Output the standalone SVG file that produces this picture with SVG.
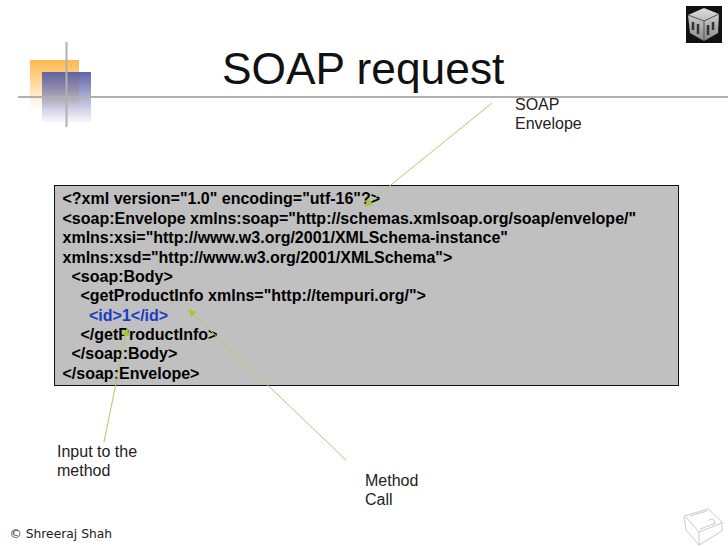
<svg xmlns="http://www.w3.org/2000/svg" width="728" height="546" viewBox="0 0 728 546">
<style>
.t{font-family:"Liberation Sans",Arial,sans-serif}
.code{font-size:16px;font-weight:bold;fill:#000}
.lab{font-size:16px;fill:#222}
.conn{stroke:#b5c86a;stroke-width:1;fill:none;marker-end:url(#arr)}
</style>
<defs>
<linearGradient id="o" x1="0" y1="0" x2="0" y2="1"><stop offset="0" stop-color="#ffb84d"/><stop offset="1" stop-color="#ffb84d" stop-opacity="0"/></linearGradient>
<linearGradient id="p" x1="0" y1="0" x2="0" y2="1"><stop offset="0" stop-color="#6065a8"/><stop offset="1" stop-color="#6065a8" stop-opacity="0.05"/></linearGradient>
<linearGradient id="cube" x1="0" y1="0" x2="0" y2="1"><stop offset="0" stop-color="#ddd"/><stop offset="1" stop-color="#888"/></linearGradient>
<marker id="arr" markerWidth="8" markerHeight="8" refX="7" refY="4" orient="auto" markerUnits="userSpaceOnUse"><path d="M0 0L8 4L0 8Z" fill="#a4c832"/></marker>
</defs>
<rect width="728" height="546" fill="#fff"/>
<g id="decor">
<rect x="30" y="60" width="49" height="50" fill="url(#o)"/>
<rect x="42" y="72" width="49" height="50" fill="url(#p)"/>
<path d="M18 97H728M66.500 42V127" stroke="#b0b0b0" stroke-width="2" fill="none"/>
</g>
<g id="logo">
<rect x="686" y="6" width="36" height="37" fill="#111"/>
<path d="M704 8L719 14L718 33L704 41L690 33L688 15Z" fill="url(#cube)"/>
<path d="M688 15L704 21L719 14M704 21V41" stroke="#555" stroke-width="1" fill="none"/>
<path d="M693 22V30M698 24V34M708 25V35M713 22V30" stroke="#333" stroke-width="2.500"/>
</g>
<g id="title"><text class="t" x="222" y="84" font-size="44.300" fill="#111">SOAP request</text></g>
<g id="code-box">
<rect x="54.500" y="185.500" width="624" height="200" fill="#c0c0c0" stroke="#111" stroke-width="1"/>
<text class="t code" x="62.500" y="204">&lt;?xml version="1.0" encoding="utf-16"?&gt;</text>
<text class="t code" x="62.500" y="224">&lt;soap:Envelope xmlns:soap="http://schemas.xmlsoap.org/soap/envelope/"</text>
<text class="t code" x="62.500" y="243">xmlns:xsi="http://www.w3.org/2001/XMLSchema-instance"</text>
<text class="t code" x="62.500" y="263">xmlns:xsd="http://www.w3.org/2001/XMLSchema"&gt;</text>
<text class="t code" x="71.500" y="282">&lt;soap:Body&gt;</text>
<text class="t code" x="80.500" y="301">&lt;getProductInfo xmlns="http://tempuri.org/"&gt;</text>
<text class="t code" x="89" y="321" style="fill:#1a3cc0">&lt;id&gt;1&lt;/id&gt;</text>
<text class="t code" x="80.500" y="340">&lt;/getProductInfo&gt;</text>
<text class="t code" x="71.500" y="359">&lt;/soap:Body&gt;</text>
<text class="t code" x="62.500" y="379">&lt;/soap:Envelope&gt;</text>
</g>
<g id="connectors">
<path class="conn" d="M492 103L365 206"/>
<path class="conn" d="M104 442L127 329"/>
<path class="conn" d="M346 460L189 310"/>
</g>
<g id="label-envelope"><text class="t lab" x="515" y="110">SOAP</text><text class="t lab" x="515" y="129">Envelope</text></g>
<g id="label-input"><text class="t lab" x="57" y="457">Input to the</text><text class="t lab" x="57" y="476">method</text></g>
<g id="label-method"><text class="t lab" x="365" y="486">Method</text><text class="t lab" x="365" y="505">Call</text></g>
<g id="footer"><text x="9.500" y="538" font-family="DejaVu Sans,sans-serif" font-size="12.300" fill="#222">© Shreeraj Shah</text></g>
<g id="box-icon" fill="none" stroke="#bbb" stroke-width="0.800">
<path d="M684 516L708 509L722 522L722 531L699 545L686 530Z"/>
<path d="M686 517L699 532L722 523M699 532V545M690 516L707 511M700 529L716 523"/>
<path d="M708 521C712 517 716 520 714 524"/>
</g>
</svg>
